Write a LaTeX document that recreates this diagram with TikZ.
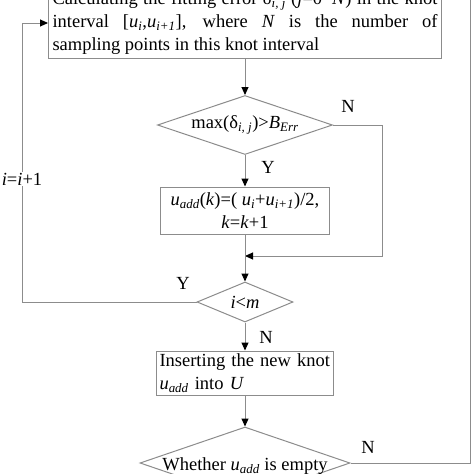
\documentclass[tikz,border=0pt]{standalone}
\usepackage{fontspec}
\setmainfont{Liberation Serif}
\usetikzlibrary{shapes.geometric,arrows.meta,calc}
\newcommand{\lsb}[1]{\textsubscript{\itshape #1}}
\definecolor{lc}{HTML}{8C8C8C}
\begin{document}
\begin{tikzpicture}[x=1pt,y=-1pt,
  every node/.style={font=\fontsize{18.5}{23}\selectfont},
  ln/.style={draw=lc, line width=1pt},
  arr/.style={ln, -{Triangle[length=8pt,width=7pt,color=black]}},
  box/.style={draw=lc, line width=1pt, rectangle, inner sep=0pt},
  dia/.style={draw=lc, line width=1pt, diamond, inner sep=0pt},
  lab/.style={inner sep=1pt}]
\useasboundingbox (0,0) rectangle (474,474);
\clip (0,0) rectangle (474,474);
\fill[white] (0,0) rectangle (474,474);

% boxes
\node[box, minimum width=393pt, minimum height=71pt, text width=385pt, align=justify, anchor=south] (b1) at (245,59)
  {Calculating the fitting error δ\lsb{i, j} (\textit{j}=0\textasciitilde\textit{N}) in the knot\linebreak
   interval [\textit{u}\lsb{i},\textit{u}\lsb{i+1}], where \textit{N} is the number of\linebreak
   sampling points in this knot interval};
\node[box, minimum width=169pt, minimum height=47pt, align=center] (b2) at (245,210.5)
  {\textit{u}\lsb{add}(\textit{k})=( \textit{u}\lsb{i}+\textit{u}\lsb{i+1})/2,\\ \textit{k}=\textit{k}+1};
\node[box, minimum width=177pt, minimum height=44pt, text width=171pt, align=left] (b3) at (245,373)
  {Inserting the new knot\\ \textit{u}\lsb{add} into \textit{U}};

% diamonds
\node[dia, minimum width=175pt, minimum height=59pt] (d1) at (245,125) {};
\node (d1t) at (d1) {max(δ\lsb{i, j})>\textit{B}\lsb{Err}};
\node[dia, minimum width=96pt, minimum height=40pt] (d2) at (245,302) {};
\node (d2t) at (d2) {\textit{i}<\textit{m}};
\node[dia, minimum width=210pt, minimum height=72pt] (d3) at (245,463) {};
\node (d3t) at ([yshift=-3pt]d3.center) {Whether \textit{u}\lsb{add} is empty};

% connectors
\coordinate (j) at (245,256);
\coordinate (rx) at (382,0);
\coordinate (lx) at (22,0);
\coordinate (rt) at (470,-30);
\draw[arr] (b1.south) -- (d1.north);
\draw[arr] (d1.south) -- (b2.north);
\draw[arr] (d1.east) -- (rx |- d1.east) |- (j);
\draw[ln] (b2.south) -- (j);
\draw[arr] (j) -- (d2.north);
\draw[arr] (d2.west) -| (lx |- b1.west) -- (b1.west);
\draw[arr] (d2.south) -- (b3.north);
\draw[arr] (b3.south) -- (d3.north);
\draw[ln] (d3.east) -| (rt);

% labels
\node[lab, fill=white] (inc) at (22,179) {\textit{i}=\textit{i}+1};
\node[lab] (y1) at (268,167) {Y};
\node[lab] (n1) at (348,106) {N};
\node[lab] (y2) at (183,283) {Y};
\node[lab] (n2) at (266,337) {N};
\node[lab] (n3) at (368,447) {N};
\end{tikzpicture}
\end{document}
